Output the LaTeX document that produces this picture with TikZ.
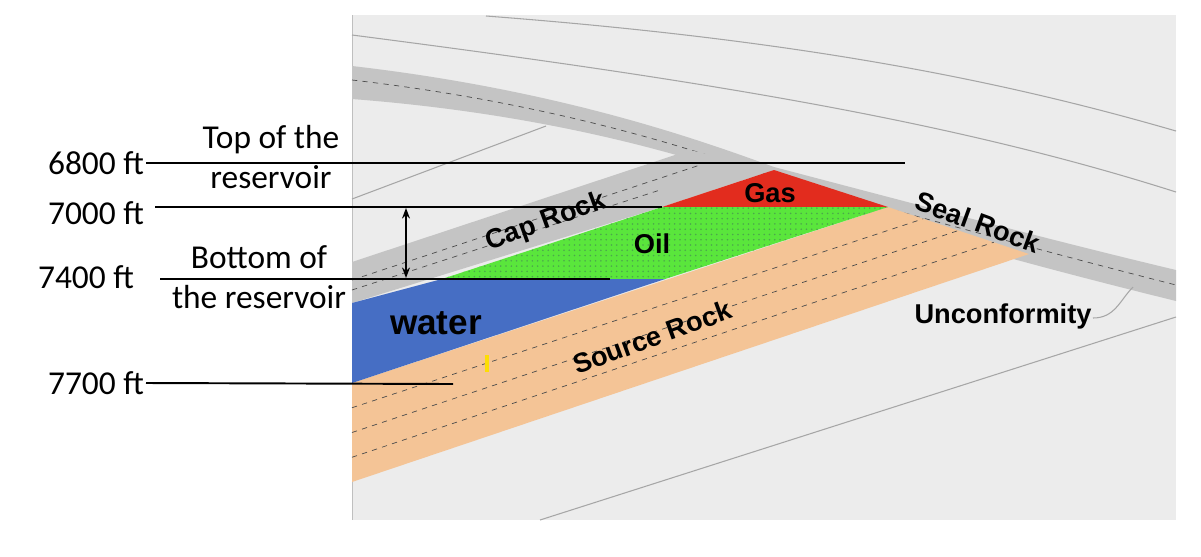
\documentclass[tikz,border=0pt]{standalone}
\usepackage{fontspec}
\setmainfont{Carlito}
\newfontfamily\lab{Liberation Sans}
\usetikzlibrary{arrows.meta,patterns,calc}
\definecolor{bgp}{RGB}{236,236,236}
\definecolor{rockg}{RGB}{196,196,196}
\definecolor{gasr}{RGB}{226,44,30}
\definecolor{oilg}{RGB}{90,230,60}
\definecolor{waterb}{RGB}{70,110,196}
\definecolor{srco}{RGB}{244,196,150}
\tikzset{
 geo/.style={font=\lab\bfseries\fontsize{15.5}{18}\selectfont, inner sep=1pt},
 depth/.style={font=\fontsize{19}{22}\selectfont, anchor=east, inner sep=1pt},
 note/.style={font=\fontsize{19}{23}\selectfont, align=center, inner sep=1pt},
 depthline/.style={line width=1.1pt},
 bgline/.style={gray!70, line width=0.6pt},
 layerdash/.style={gray!60!black, dashed, line width=0.4pt}
}
\begin{document}
\begin{tikzpicture}[x=0.02cm,y=-0.02cm]
\useasboundingbox (0,0) rectangle (1201,556);
\fill[white] (0,0) rectangle (1201,556);
\fill[bgp] (352,15) rectangle (1176,520);
\draw[gray!50, line width=0.5pt] (352,15) -- (352,520);
% background lines
\draw[bgline] (486,16) .. controls (800,40) and (1000,80) .. (1176,131);
\draw[bgline] (352,35) .. controls (700,80) and (950,120) .. (1176,192);
\draw[bgline] (352,199) -- (546,126);
\draw[bgline] (540,520) -- (1176,317);
% seal band
\fill[rockg] (352,66) .. controls (560,90) and (700,140) .. (774,167)
  .. controls (900,200) and (1050,240) .. (1176,270) -- (1176,301)
  .. controls (1050,270) and (900,230) .. (774,186)
  .. controls (700,160) and (560,115) .. (352,99) -- cycle;
\draw[layerdash] (352,80) .. controls (560,104) and (700,152) .. (774,177) .. controls (900,212) and (1050,253) .. (1176,285);
% cap rock band
\fill[rockg] (352,262) -- (690,150) -- (774,170) -- (662,207) -- (352,303) -- cycle;
\draw[layerdash] (352,280) -- (700,165);
\draw[layerdash] (352,290) -- (660,190);
% source rock
\fill[srco] (352,383) -- (888,207) -- (1029,254) -- (352,482) -- cycle;
\foreach \k in {0.25,0.5,0.75}{
  \draw[layerdash] ($(352,383)!\k!(352,482)$) -- ($(888,207)!\k!(1029,254)$);}
% gas, oil, water
\fill[gasr] (774,170) -- (888,207) -- (662,207) -- cycle;
\fill[oilg] (662,207) -- (888,207) -- (665,279) -- (442,279) -- cycle;
\fill[pattern=dots, pattern color=green!50!black!70] (662,207) -- (888,207) -- (665,279) -- (442,279) -- cycle;
\fill[waterb] (352,303) -- (442,279) -- (665,279) -- (352,383) -- cycle;
\fill[yellow!80!orange] (485,355) rectangle (489,372);
% leader
\draw[bgline] (1093,318) .. controls (1115,318) and (1120,300) .. (1133,287);
% labels
\node[geo, rotate=20] (cap) at (546,222) {Cap Rock};
\node[geo] (gas) at (770,193) {Gas};
\node[geo] (oil) at (652,244) {Oil};
\node[geo, rotate=-20] (seal) at (978,222) {Seal Rock};
\node[geo, font=\lab\bfseries\fontsize{20}{22}\selectfont] (water) at (436,323) {water};
\node[geo, rotate=20] (src) at (652,337) {Source Rock};
\node[geo] (unc) at (1003,316) {Unconformity};
% depth marks
\node[depth] (d68) at (146,163) {6800 ft};
\coordinate (e68) at (905,163);
\draw[depthline] (d68.east) -- (e68);
\node[depth] (d70) at (146,213) {7000 ft};
\coordinate (s70) at (155,207); \coordinate (e70) at (662,207);
\draw[depthline] (s70) -- (e70);
\node[depth] (d74) at (136,277) {7400 ft};
\coordinate (s74) at (160,279); \coordinate (e74) at (610,279);
\draw[depthline] (s74) -- (e74);
\node[depth] (d77) at (146,383) {7700 ft};
\coordinate (e77) at (453,384);
\draw[depthline] (d77.east) -- (e77);
\coordinate (a1) at (406,208); \coordinate (a2) at (406,278);
\draw[line width=1pt, {Stealth[length=6pt]}-{Stealth[length=6pt]}] (a1) -- (a2);
\node[note] (top) at (271,157) {Top of the\\reservoir};
\node[note] (bot) at (259,277) {Bottom of\\the reservoir};
\end{tikzpicture}
\end{document}
